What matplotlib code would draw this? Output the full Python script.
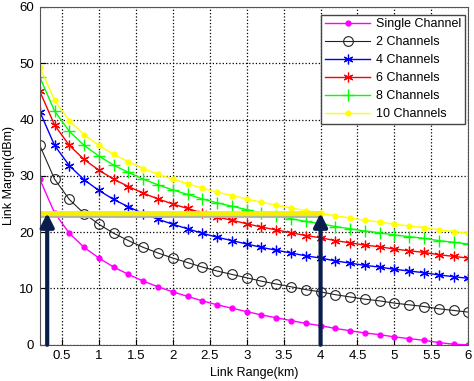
import matplotlib
matplotlib.use('Agg')
import matplotlib.pyplot as plt
from matplotlib.ticker import MultipleLocator

plt.rcParams['font.family'] = ['Liberation Sans', 'DejaVu Sans']

link_range = [0.2, 0.4, 0.6, 0.8, 1.0, 1.2, 1.4, 1.6, 1.8, 2.0,
              2.2, 2.4, 2.6, 2.8, 3.0, 3.2, 3.4, 3.6, 3.8, 4.0,
              4.2, 4.4, 4.6, 4.8, 5.0, 5.2, 5.4, 5.6, 5.8, 6.0]

single = [29.4, 23.4, 19.8, 17.3, 15.4, 13.8, 12.5, 11.3, 10.3, 9.4,
          8.6, 7.8, 7.1, 6.5, 5.9, 5.3, 4.8, 4.3, 3.8, 3.4,
          2.9, 2.5, 2.1, 1.8, 1.4, 1.1, 0.8, 0.4, 0.1, 0.0]
ch2 = [35.4, 29.4, 25.8, 23.3, 21.4, 19.8, 18.5, 17.3, 16.3, 15.4,
       14.6, 13.8, 13.1, 12.5, 11.9, 11.3, 10.8, 10.3, 9.8, 9.4,
       8.9, 8.5, 8.1, 7.8, 7.4, 7.1, 6.8, 6.4, 6.1, 5.8]
ch4 = [41.4, 35.4, 31.8, 29.3, 27.4, 25.8, 24.5, 23.3, 22.3, 21.4,
       20.6, 19.8, 19.1, 18.5, 17.9, 17.3, 16.8, 16.3, 15.8, 15.4,
       14.9, 14.5, 14.1, 13.8, 13.4, 13.1, 12.8, 12.4, 12.1, 11.8]
ch6 = [45.0, 39.0, 35.4, 32.9, 31.0, 29.4, 28.1, 26.9, 25.9, 25.0,
       24.2, 23.4, 22.7, 22.1, 21.5, 20.9, 20.4, 19.9, 19.4, 19.0,
       18.5, 18.1, 17.7, 17.4, 17.0, 16.7, 16.4, 16.0, 15.7, 15.4]
ch8 = [47.5, 41.5, 37.9, 35.4, 33.5, 31.9, 30.6, 29.4, 28.4, 27.5,
       26.7, 25.9, 25.2, 24.6, 24.0, 23.4, 22.9, 22.4, 21.9, 21.5,
       21.0, 20.6, 20.2, 19.9, 19.5, 19.2, 18.9, 18.5, 18.2, 17.9]
ch10 = [49.4, 43.4, 39.8, 37.3, 35.4, 33.8, 32.5, 31.3, 30.3, 29.4,
        28.6, 27.8, 27.1, 26.5, 25.9, 25.3, 24.8, 24.3, 23.8, 23.4,
        22.9, 22.5, 22.1, 21.8, 21.4, 21.1, 20.8, 20.4, 20.1, 19.8]

# threshold line and arrows
thr_level = 23.4
thr_x = [0.2, 4.0]
arrow_x = [0.3, 4.0]

x_ticks = [0.5, 1, 1.5, 2, 2.5, 3, 3.5, 4, 4.5, 5, 5.5, 6]
x_labels = ['0.5', '1', '1.5', '2', '2.5', '3', '3.5', '4', '4.5', '5', '5.5', '6']

fig = plt.figure(figsize=(4.74, 3.81), dpi=100)
ax = fig.add_axes([0.084, 0.095, 0.904, 0.887])

ast = (6, 2, 0)
ax.plot(link_range, single, color='#ff00ff', marker='.', markersize=7, lw=1, label='Single Channel')
ax.plot(link_range, ch2, color='#222222', marker='o', markersize=7, mfc='none', mew=0.8, lw=0.8, label='2 Channels')
ax.plot(link_range, ch4, color='#0000ff', marker=ast, markersize=7, mew=0.9, lw=1, label='4 Channels')
ax.plot(link_range, ch6, color='#ff0000', marker=ast, markersize=7, mew=0.9, lw=1, label='6 Channels')
ax.plot(link_range, ch8, color='#00ff00', marker='+', markersize=8, mew=1, lw=1, label='8 Channels')
ax.plot(link_range, ch10, color='#ffff00', marker='.', markersize=7, lw=1, label='10 Channels')

ax.plot(thr_x, [thr_level - 0.4] * 2, color='#b5b59a', lw=3.5, solid_capstyle='butt')
ax.plot(thr_x, [thr_level] * 2, color='#f5f000', lw=3.5, solid_capstyle='butt')
for xa in arrow_x:
    ax.annotate('', xy=(xa, thr_level), xytext=(xa, 0),
                arrowprops=dict(arrowstyle='-|>,head_width=0.4,head_length=0.8',
                                color='#0a1e4e', lw=3, shrinkA=0, shrinkB=0))

ax.set_xlim(0.2, 6)
ax.set_ylim(0, 60)
ax.yaxis.set_major_locator(MultipleLocator(10))
ax.set_xticks(x_ticks)
ax.set_xticklabels(x_labels)
ax.tick_params(direction='in', labelsize=9.5, length=4, pad=4)
ax.grid(True, linestyle=':', color='black', linewidth=0.9)
for s in ax.spines.values():
    s.set_color('#555555')
ax.set_xlabel('Link Range(km)', fontsize=9, labelpad=3)
ax.set_ylabel('Link Margin(dBm)', fontsize=9, labelpad=3)

leg = ax.legend(loc='upper right', fontsize=9, fancybox=False, framealpha=1,
                edgecolor='#444444', borderpad=0.3, labelspacing=0.48,
                handlelength=3.6, handletextpad=0.5, borderaxespad=0.0,
                bbox_to_anchor=(0.993, 0.977))
leg.get_frame().set_linewidth(1)

fig.savefig('out.png', dpi=100)
